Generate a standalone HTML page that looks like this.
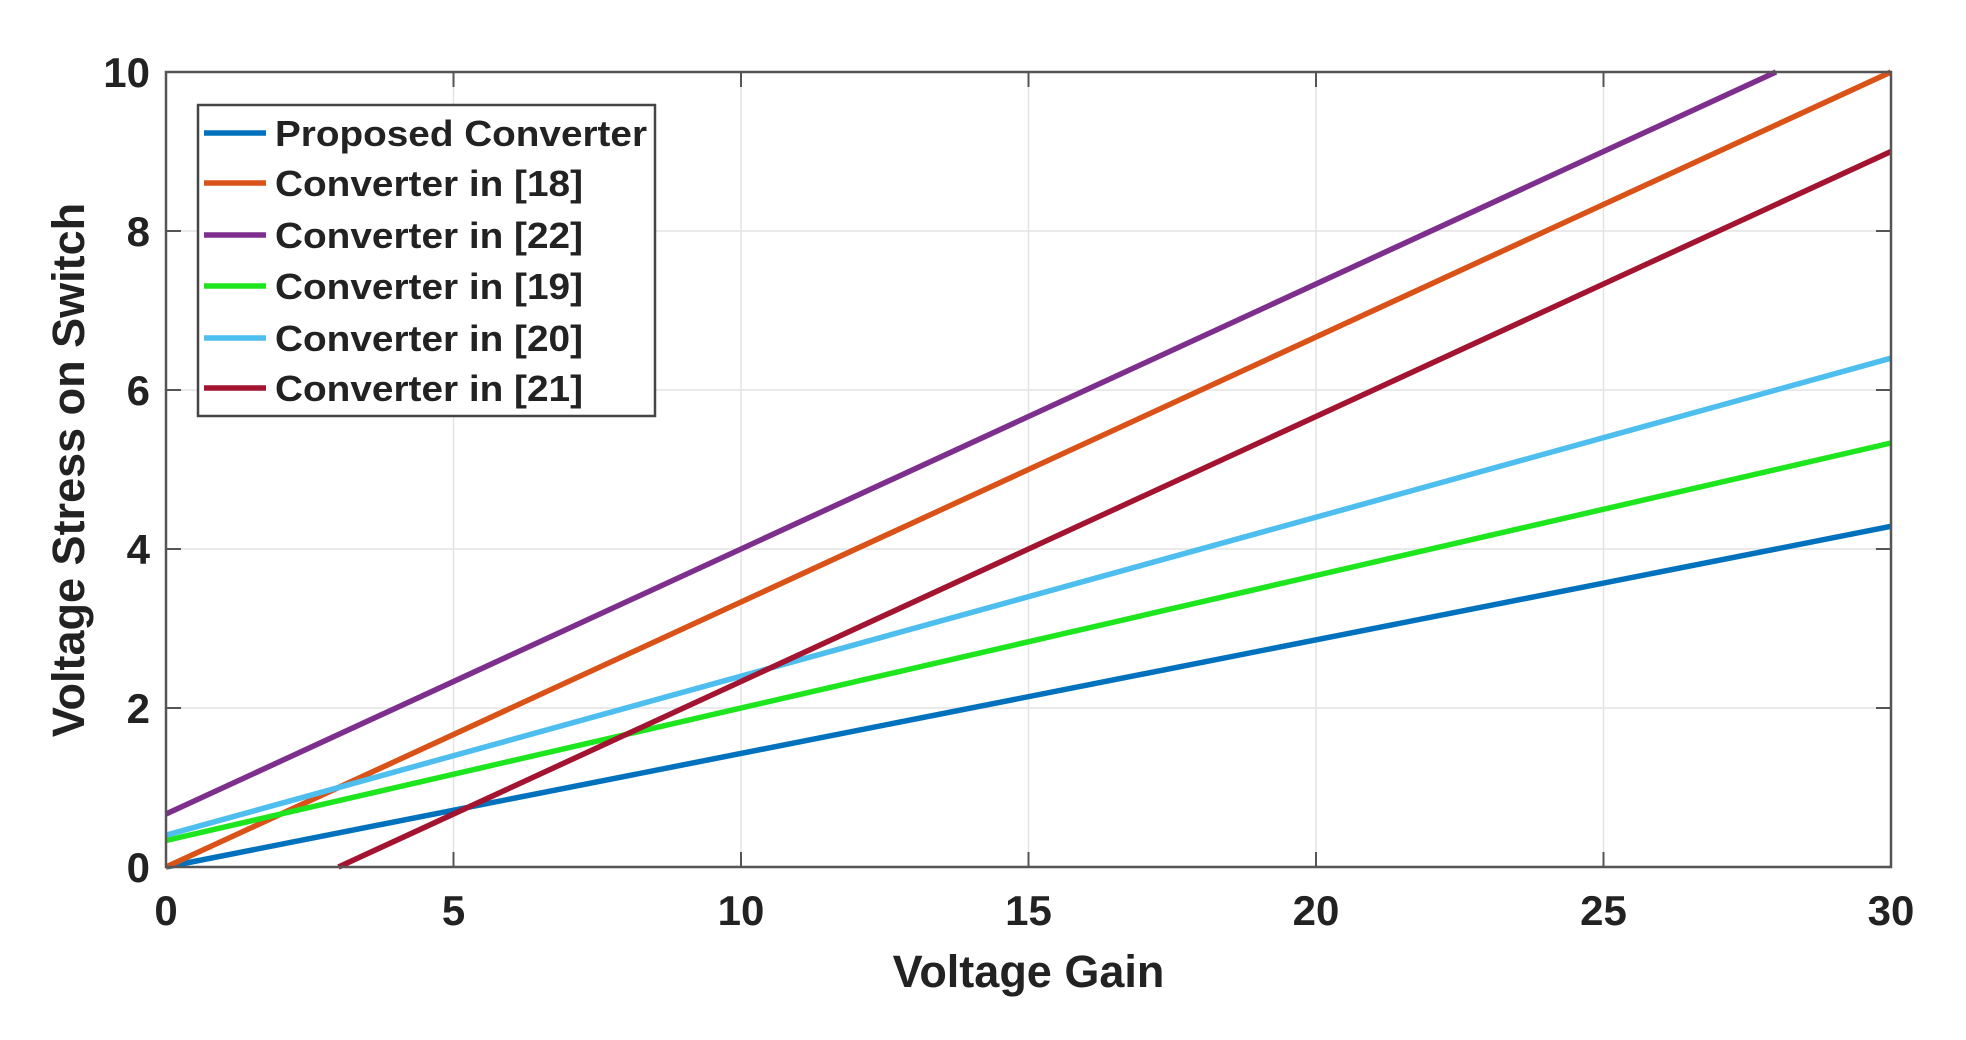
<!DOCTYPE html>
<html><head><meta charset="utf-8"><style>
html,body{margin:0;padding:0;background:#fff;}
svg{display:block;}
text{font-family:"Liberation Sans",Arial,sans-serif;font-weight:bold;fill:#222;}
</style></head><body>
<svg width="1966" height="1040" viewBox="0 0 1966 1040" xmlns="http://www.w3.org/2000/svg">
<rect width="1966" height="1040" fill="#fff"/>
<g stroke="#e3e3e3" stroke-width="1.5">
<line x1="453.5" y1="72" x2="453.5" y2="867"/>
<line x1="741" y1="72" x2="741" y2="867"/>
<line x1="1028.5" y1="72" x2="1028.5" y2="867"/>
<line x1="1316" y1="72" x2="1316" y2="867"/>
<line x1="1603.5" y1="72" x2="1603.5" y2="867"/>
<line x1="166" y1="708" x2="1891" y2="708"/>
<line x1="166" y1="549" x2="1891" y2="549"/>
<line x1="166" y1="390" x2="1891" y2="390"/>
<line x1="166" y1="231" x2="1891" y2="231"/>
</g>
<g stroke="#555" stroke-width="2">
<line x1="453.5" y1="867" x2="453.5" y2="852"/><line x1="741" y1="867" x2="741" y2="852"/><line x1="1028.5" y1="867" x2="1028.5" y2="852"/><line x1="1316" y1="867" x2="1316" y2="852"/><line x1="1603.5" y1="867" x2="1603.5" y2="852"/>
<line x1="453.5" y1="72" x2="453.5" y2="87"/><line x1="741" y1="72" x2="741" y2="87"/><line x1="1028.5" y1="72" x2="1028.5" y2="87"/><line x1="1316" y1="72" x2="1316" y2="87"/><line x1="1603.5" y1="72" x2="1603.5" y2="87"/>
<line x1="166" y1="708" x2="181" y2="708"/><line x1="166" y1="549" x2="181" y2="549"/><line x1="166" y1="390" x2="181" y2="390"/><line x1="166" y1="231" x2="181" y2="231"/>
<line x1="1891" y1="708" x2="1876" y2="708"/><line x1="1891" y1="549" x2="1876" y2="549"/><line x1="1891" y1="390" x2="1876" y2="390"/><line x1="1891" y1="231" x2="1876" y2="231"/>
</g>
<g fill="none" stroke-width="5.5" stroke-linecap="butt">
<line x1="166" y1="867" x2="1891" y2="526.3" stroke="#0072BD"/>
<line x1="166" y1="867" x2="1891" y2="72" stroke="#D95319"/>
<line x1="166" y1="814" x2="1776" y2="72" stroke="#7E2F8E"/>
<line x1="166" y1="840.5" x2="1891" y2="443" stroke="#1EE61E"/>
<line x1="166" y1="835.2" x2="1891" y2="358.2" stroke="#4DBEEE"/>
<line x1="338.5" y1="867" x2="1891" y2="151.5" stroke="#A2142F"/>
</g>
<rect x="166" y="72" width="1725" height="795" fill="none" stroke="#555" stroke-width="2.5"/>
<g font-size="42" text-anchor="middle">
<text x="166" y="925">0</text><text x="453.5" y="925">5</text><text x="741" y="925">10</text><text x="1028.5" y="925">15</text><text x="1316" y="925">20</text><text x="1603.5" y="925">25</text><text x="1891" y="925">30</text>
</g>
<g font-size="42" text-anchor="end">
<text x="150" y="882">0</text><text x="150" y="723">2</text><text x="150" y="564">4</text><text x="150" y="405">6</text><text x="150" y="246">8</text><text x="150" y="87">10</text>
</g>
<text x="1028.5" y="987" font-size="45" text-anchor="middle">Voltage Gain</text>
<text transform="translate(84,470) rotate(-90)" font-size="45" text-anchor="middle">Voltage Stress on Switch</text>
<rect x="198" y="105" width="457" height="311" fill="#fff" stroke="#444" stroke-width="2.5"/>
<g stroke-width="5.5">
<line x1="204" y1="133" x2="266" y2="133" stroke="#0072BD"/>
<line x1="204" y1="183" x2="266" y2="183" stroke="#D95319"/>
<line x1="204" y1="235" x2="266" y2="235" stroke="#7E2F8E"/>
<line x1="204" y1="286" x2="266" y2="286" stroke="#1EE61E"/>
<line x1="204" y1="338" x2="266" y2="338" stroke="#4DBEEE"/>
<line x1="204" y1="388" x2="266" y2="388" stroke="#A2142F"/>
</g>
<g font-size="36" fill="#111">
<text x="275" y="146" textLength="372" lengthAdjust="spacingAndGlyphs">Proposed Converter</text>
<text x="275" y="196" textLength="308" lengthAdjust="spacingAndGlyphs">Converter in [18]</text>
<text x="275" y="248" textLength="308" lengthAdjust="spacingAndGlyphs">Converter in [22]</text>
<text x="275" y="299" textLength="308" lengthAdjust="spacingAndGlyphs">Converter in [19]</text>
<text x="275" y="351" textLength="308" lengthAdjust="spacingAndGlyphs">Converter in [20]</text>
<text x="275" y="401" textLength="308" lengthAdjust="spacingAndGlyphs">Converter in [21]</text>
</g>
</svg>
</body></html>
